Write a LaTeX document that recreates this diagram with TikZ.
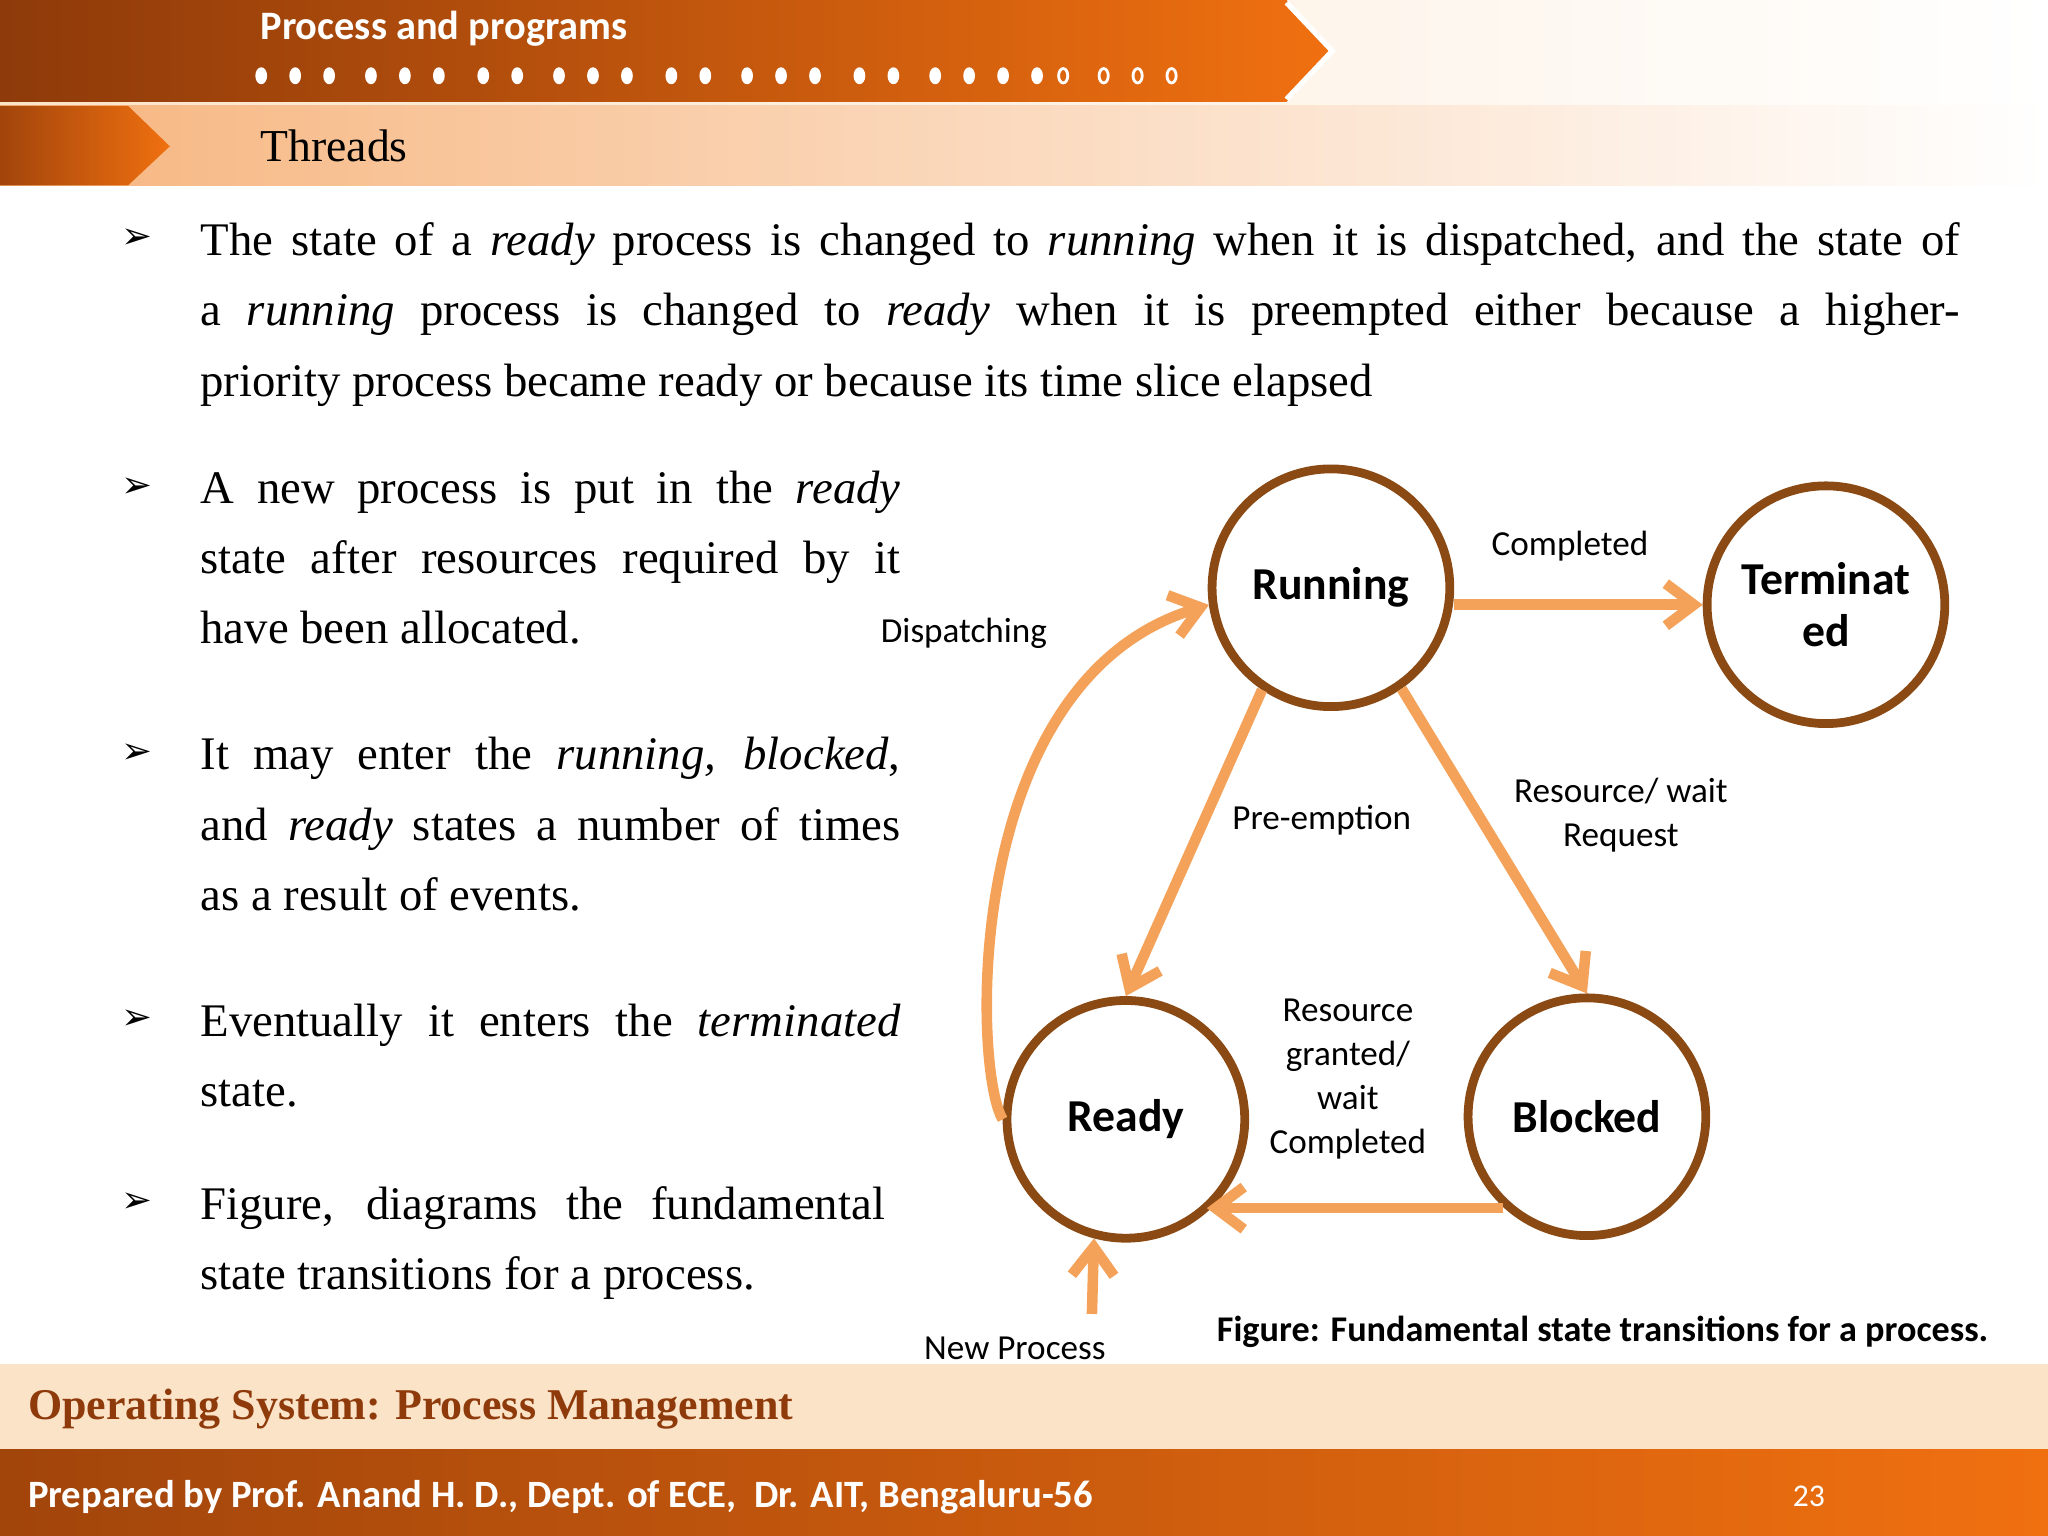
\documentclass[tikz,border=0pt]{standalone}
\usepackage{fontspec}
\setmainfont{Liberation Serif}
\newfontfamily\calfont{Carlito}
\newfontfamily\djv{DejaVu Sans}
\usetikzlibrary{arrows.meta,calc}
\definecolor{brn}{HTML}{8B4A14}
\definecolor{arr}{HTML}{F4A259}
\definecolor{dk}{HTML}{8E3A0A}
\definecolor{org}{HTML}{F07010}
\definecolor{lt}{HTML}{FBE3C8}
\newlength\unitpx \setlength\unitpx{0.013061cm}
\newcommand\jline[2]{\makebox[#1\unitpx][s]{#2}}
\tikzset{st/.style={circle,draw=brn,line width=2.5pt,minimum size=182\unitpx,inner sep=0pt,font=\calfont\bfseries\fontsize{13}{15}\selectfont,align=center},
 tr/.style={draw=arr,line width=3pt,-{Straight Barb[length=8pt,width=12pt]}},
 lb/.style={font=\calfont\fontsize{10}{12.5}\selectfont,align=center},
 body/.style={font=\fontsize{13.3}{20}\selectfont,anchor=north west,align=left,inner sep=0pt},
 bul/.style={font=\djv\fontsize{10.5}{13}\selectfont}}
\begin{document}
\begin{tikzpicture}[x=0.013061cm,y=-0.013061cm]
\useasboundingbox (0,0) rectangle (1568,1176);
\fill[white] (0,0) rectangle (1568,1176);
% header
\shade[left color=lt,right color=white] (0,0) rectangle (1568,142);
\shade[left color=dk,right color=org] (0,0) -- (985,0) -- (1020,39) -- (985,78) -- (0,78) -- cycle;
\draw[white,line width=1.5pt] (985,2) -- (1020,39) -- (985,76);
\shade[left color=lt!60!org,right color=white] (0,81) rectangle (1568,142);
\shade[left color=dk!80!org,right color=org] (0,81) -- (98,81) -- (130,112) -- (98,142) -- (0,142) -- cycle;
\node[anchor=west,text=white,font=\calfont\bfseries\fontsize{11.5}{13}\selectfont] (t1) at (190,22) {Process and programs};
\foreach \x in {200,226,252,284,310,336,370,396,428,454,480,514,540,572,598,624,658,684,716,742,768,794}
  \fill[white] (\x,58) ellipse (4.5 and 6.5);
\foreach \x in {814,845,871,897}
  \draw[white,line width=0.8pt] (\x,58) ellipse (3.5 and 5.5);
\node[anchor=west,font=\fontsize{13}{13}\selectfont] (t2) at (190,112) {Threads};
% body text
\node[bul] (b1) at (105,183) {➢};
\node[body] (p1) at (153,170) {\jline{1347}{The state of a \textit{ready} process is changed to \textit{running} when it is dispatched, and the state of}\\
\jline{1347}{a \textit{running} process is changed to \textit{ready} when it is preempted either because a higher-}\\
priority process became ready or because its time slice elapsed};
\node[bul] (b2) at (105,373) {➢};
\node[body] (p2) at (153,360) {\jline{536}{A new process is put in the \textit{ready}}\\ \jline{536}{state after resources required by it}\\ have been allocated.};
\node[bul] (b3) at (105,577) {➢};
\node[body] (p3) at (153,564) {\jline{536}{It may enter the \textit{running, blocked},}\\ \jline{536}{and \textit{ready} states a number of times}\\ as a result of events.};
\node[bul] (b4) at (105,781) {➢};
\node[body] (p4) at (153,768) {\jline{536}{Eventually it enters the \textit{terminated}}\\ state.};
\node[bul] (b5) at (105,921) {➢};
\node[body] (p5) at (153,908) {\jline{524}{Figure, diagrams the fundamental}\\ state transitions for a process.};
% diagram
\node[st] (run) at (1019,450) {Running};
\node[st] (term) at (1398,463) {Terminat\\ed};
\node[st] (rdy) at (862,857) {Ready};
\node[st] (blk) at (1215,855) {Blocked};
\draw[tr] (run.east |- term.west) -- (term.west);
\draw[tr] (run.236) -- (rdy.north);
\draw[tr] (run.305) -- (blk.north);
\draw[tr] ($(blk.center)+(-64,70)$) -- ($(rdy.center)+(62,68)$);
\draw[tr] (rdy.west) .. controls (745,820) and (735,520) .. (run.188);
\coordinate (np) at (836,1006);
\draw[tr] (np) -- (rdy.-105);
\node[lb] (l1) at (1202,418) {Completed};
\node[lb] (l2) at (738,485) {Dispatching};
\node[lb] (l3) at (1012,628) {Pre-emption};
\node[lb] (l4) at (1241,624) {Resource/ wait\\Request};
\node[lb] (l5) at (1032,826) {Resource\\granted/\\wait\\Completed};
\node[lb] (l6) at (777,1032) {New Process};
\node[font=\calfont\bfseries\fontsize{10.3}{12}\selectfont] (cap) at (1227,1020) {Figure: Fundamental state transitions for a process.};
% footer
\shade[left color=lt,middle color=org!40,right color=lt] (0,1045) rectangle (1568,1110);
\shade[left color=dk!80!org,right color=org] (0,1110) rectangle (1568,1176);
\node[anchor=west,text=dk,font=\bfseries\fontsize{12.5}{13}\selectfont] (f1) at (12,1079) {Operating System: Process Management};
\node[anchor=west,text=white,font=\calfont\bfseries\fontsize{11}{13}\selectfont] (f2) at (12,1146) {Prepared by Prof. Anand H. D., Dept. of ECE,\ \ Dr. AIT, Bengaluru-56};
\node[text=white,font=\calfont\fontsize{9}{11}\selectfont] (pg) at (1385,1146) {23};
\end{tikzpicture}
\end{document}
